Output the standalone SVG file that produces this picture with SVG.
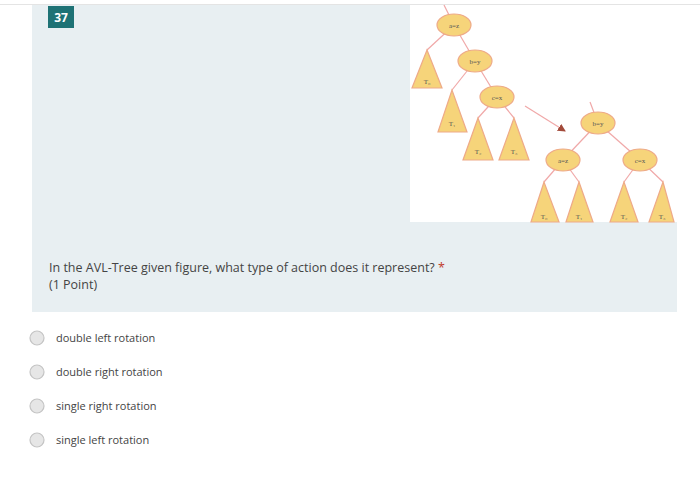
<svg xmlns="http://www.w3.org/2000/svg" width="700" height="486" viewBox="0 0 700 486">
<style>
text{font-family:"Open Sans","Liberation Sans",sans-serif}
.q{font-size:12.5px;fill:#444}
.o{font-size:11px;fill:#444}
.rad{fill:#e6e6e6;stroke:#c4c4c4;stroke-width:1.2}
.n ellipse{fill:#f6d47a;stroke:#eeaa88;stroke-width:1.2}
.n polygon{fill:#f6d47a;stroke:#eeaa88;stroke-width:1.2}
.n text{font-family:"Liberation Serif",serif;font-size:7px;fill:#555;text-anchor:middle}
.e line{stroke:#f0a8a8;stroke-width:1.2}
</style>
<defs><marker id="ah" markerWidth="8" markerHeight="8" refX="7" refY="4" orient="auto" markerUnits="userSpaceOnUse"><path d="M0,0L8,4L0,8z" fill="#a24a3a"/></marker></defs>
<rect width="700" height="486" fill="#fff"/>
<line x1="0" y1="4.5" x2="700" y2="4.5" stroke="#e4e4e4"/>
<rect x="32" y="5" width="645" height="307" fill="#e8eff2"/>
<rect x="410" y="5" width="267" height="217" fill="#fff"/>
<rect x="48" y="6" width="26" height="22" fill="#1e7275"/>
<text x="61" y="22" font-size="12" font-weight="bold" fill="#fff" text-anchor="middle">37</text>
<g class="e">
<line x1="444" y1="5" x2="454" y2="25"/>
<line x1="454" y1="25" x2="427" y2="50"/><line x1="454" y1="25" x2="475" y2="61"/>
<line x1="475" y1="61" x2="452" y2="90"/><line x1="475" y1="61" x2="497" y2="97"/>
<line x1="497" y1="97" x2="478" y2="118"/><line x1="497" y1="97" x2="514" y2="118"/>
<line x1="590" y1="102" x2="598" y2="123"/>
<line x1="598" y1="123" x2="563" y2="160"/><line x1="598" y1="123" x2="640" y2="160"/>
<line x1="563" y1="160" x2="544" y2="182"/><line x1="563" y1="160" x2="579" y2="182"/>
<line x1="640" y1="160" x2="624" y2="182"/><line x1="640" y1="160" x2="663" y2="182"/>
<line x1="525" y1="106" x2="565" y2="131" stroke="#a24a3a" stroke-width="1.6" marker-end="url(#ah)"/>
</g>
<g id="t0" class="n"><polygon points="427,50 412,88 442,88"/><text x="427" y="84">T₀</text></g>
<g id="az" class="n"><ellipse cx="454" cy="25" rx="17" ry="11"/><text x="454" y="28">a=z</text></g>
<g id="by" class="n"><ellipse cx="475" cy="61" rx="17" ry="11"/><text x="475" y="64">b=y</text></g>
<g id="t1" class="n"><polygon points="452,90 438,132 467,132"/><text x="452" y="126">T₁</text></g>
<g id="cx" class="n"><ellipse cx="497" cy="97" rx="17" ry="11"/><text x="497" y="100">c=x</text></g>
<g id="t2" class="n"><polygon points="478,118 463,160 493,160"/><text x="478" y="154">T₂</text></g>
<g id="t3" class="n"><polygon points="514,118 499,160 529,160"/><text x="514" y="154">T₃</text></g>
<g id="by2" class="n"><ellipse cx="598" cy="123" rx="17" ry="11"/><text x="598" y="126">b=y</text></g>
<g id="az2" class="n"><ellipse cx="563" cy="160" rx="17" ry="11"/><text x="563" y="163">a=z</text></g>
<g id="cx2" class="n"><ellipse cx="640" cy="160" rx="17" ry="11"/><text x="640" y="163">c=x</text></g>
<g id="t02" class="n"><polygon points="544,182 531,222 559,222"/><text x="544" y="219">T₀</text></g>
<g id="t12" class="n"><polygon points="579,182 566,222 593,222"/><text x="579" y="219">T₁</text></g>
<g id="t22" class="n"><polygon points="624,182 610,222 638,222"/><text x="624" y="219">T₂</text></g>
<g id="t32" class="n"><polygon points="663,182 649,222 674,222"/><text x="662" y="219">T₃</text></g>
<text class="q" x="49" y="272">In the AVL-Tree given figure, what type of action does it represent? <tspan fill="#c0392b">*</tspan></text>
<text class="q" x="49" y="289">(1 Point)</text>
<circle class="rad" cx="37" cy="338" r="7"/><text class="o" x="56" y="342">double left rotation</text>
<circle class="rad" cx="37" cy="372" r="7"/><text class="o" x="56" y="376">double right rotation</text>
<circle class="rad" cx="37" cy="406" r="7"/><text class="o" x="56" y="410">single right rotation</text>
<circle class="rad" cx="37" cy="440" r="7"/><text class="o" x="56" y="444">single left rotation</text>
</svg>
